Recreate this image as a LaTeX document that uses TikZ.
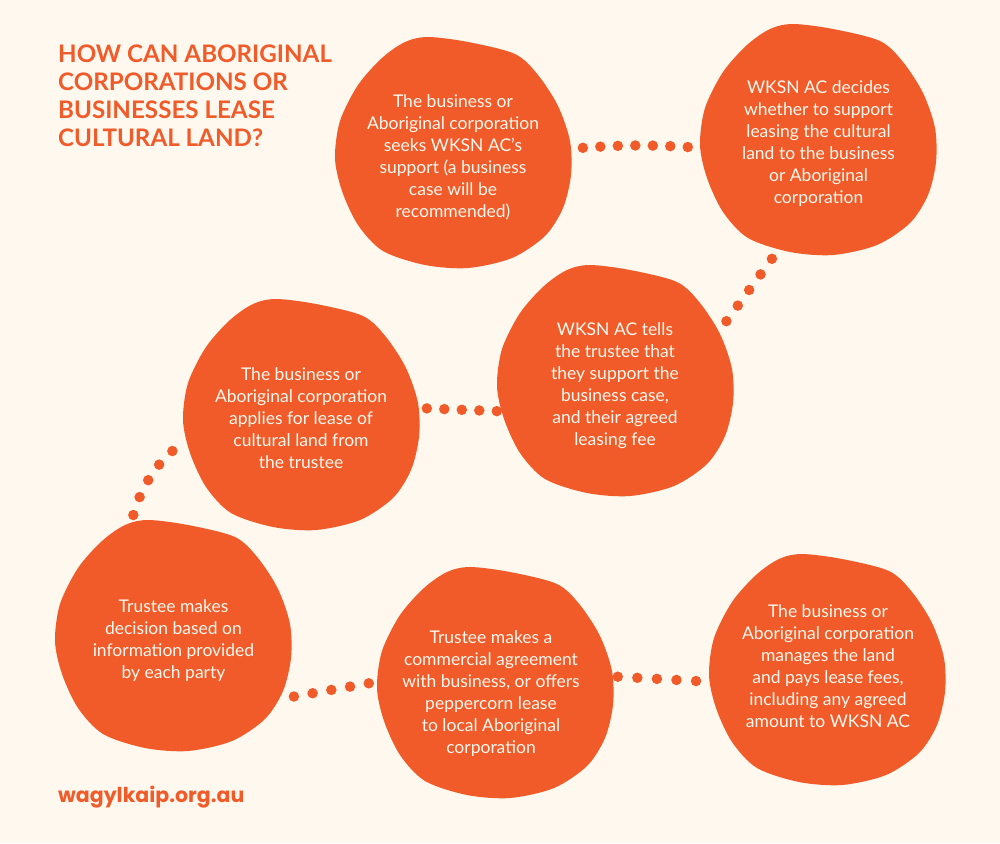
\documentclass[tikz,border=0pt]{standalone}
\usepackage{fontspec}
\setmainfont{Lato}
\newfontfamily\sitefont{Poppins}
\usepackage{tikz}

\definecolor{blobfill}{HTML}{F15A29}
\definecolor{paper}{HTML}{FEF8EE}

\tikzset{
    blob/.pic={
        \fill[blobfill] plot[smooth cycle] coordinates {
            (-25,-116) (15,-111) (62,-99) (85,-78) (105,-47) (117,-12) (118,22) (110,55) (92,83) (59,105)
            (15,115) (-28,112) (-70,98) (-95,72) (-111,38) (-118,5) (-113,-32) (-95,-68) (-71,-95) (-48,-111)};
    },
    dotline/.style={dash pattern=on 0pt off #1pt, line cap=round, line width=10.5pt},
}

\begin{document}
\begin{tikzpicture}[x=1pt,y=-1pt]

        \fill[paper] (0,0) rectangle (1000,843);
        \useasboundingbox (0,0) rectangle (1000,843);

        % blobs behind the text, one for each step
        \pic at (453,153) {blob};
        \pic at (818,140) {blob};
        \pic at (301,415) {blob};
        \pic at (615,381) {blob};
        \pic at (173,636) {blob};
        \pic at (495,683) {blob};
        \pic at (827,670) {blob};

        % step texts, use the tuple for location
        \begin{scope}[every node/.style={circle,minimum size=230pt,inner sep=0pt,align=center,text=paper,font=\fontsize{17.5}{22}\selectfont}]
        \node (seek) at (453,157) {The business or\\Aboriginal corporation\\seeks WKSN AC's\\support (a business\\case will be\\recommended)};
        \node (decide) at (818.5,144) {WKSN AC decides\\whether to support\\leasing the cultural\\land to the business\\or Aboriginal\\corporation};
        \node (apply) at (301,418) {The business or\\Aboriginal corporation\\applies for lease of\\cultural land from\\the trustee};
        \node (tell) at (615,385.5) {WKSN AC tells\\the trustee that\\they support the\\business case,\\and their agreed\\leasing fee};
        \node (judge) at (173.5,641) {Trustee makes\\decision based on\\information provided\\by each party};
        \node (agree) at (491,694) {Trustee makes a\\commercial agreement\\with business, or offers\\peppercorn lease\\to local Aboriginal\\corporation};
        \node (manage) at (828,666) {The business or\\Aboriginal corporation\\manages the land\\and pays lease fees,\\including any agreed\\amount to WKSN AC};
        \end{scope}

        % title and web address
        \node[anchor=north west,inner sep=0pt,align=left,text=blobfill,font=\fontsize{24.15}{28}\selectfont\bfseries] (title) at (58,44.5) {HOW CAN ABORIGINAL\\CORPORATIONS OR\\BUSINESSES LEASE\\CULTURAL LAND?};
        \node[anchor=west,inner sep=0pt,text=blobfill,font=\fontsize{20.5}{24}\sitefont\bfseries] (site) at (58,797) {wagylkaip.org.au};

        % dotted links between the steps
        \begin{scope}[every edge/.style={draw=blobfill}]
        \path (seek.4) edge[dotline=17.5,bend left=4,shorten <=15pt,shorten >=12pt] (decide.182);
        \path (decide.249.5) edge[dotline=19.3,shorten <=9pt,shorten >=8pt] (tell.27);
        \path (tell.193) edge[dotline=17.5,shorten <=6pt,shorten >=8pt] (apply.5);
        \path (apply.190) edge[dotline=19,bend right=18,shorten <=20pt,shorten >=15pt] (judge.113);
        \path (judge.329) edge[dotline=19,shorten <=22pt,shorten >=3pt] (agree.174);
        \path (agree.9) edge[dotline=19.6,shorten <=13pt,shorten >=14pt] (manage.188);
        \end{scope}

\end{tikzpicture}
\end{document}
